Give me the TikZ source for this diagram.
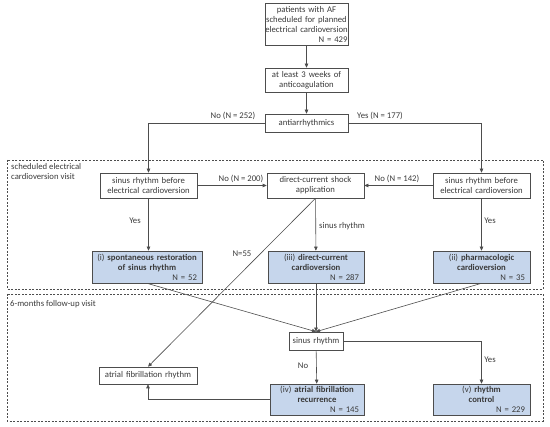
\documentclass[tikz,border=0pt]{standalone}
\usepackage{fontspec}
\setmainfont{Carlito}
\usetikzlibrary{arrows.meta}
\definecolor{linegray}{HTML}{4D4D4D}
\definecolor{textgray}{HTML}{3A3A3A}
\definecolor{boxblue}{HTML}{C6D6EC}
\newcommand{\Nright}{\hspace*{0pt plus 1filll}}
\hyphenpenalty=10000
\exhyphenpenalty=10000

\begin{document}
\begin{tikzpicture}[x=1pt, y=-1pt,
  font=\fontsize{8.7}{10}\selectfont, text=textgray,
  flowbox/.style={draw=linegray, fill=white, align=center, inner xsep=2pt, inner ysep=1pt, line width=0.6pt},
  resultbox/.style={flowbox, fill=boxblue},
  flowarrow/.style={draw=linegray, line width=0.6pt, -{Triangle[length=4pt,width=3.5pt]}},
  frame/.style={draw=linegray, line width=0.5pt, dash pattern=on 2pt off 1.5pt},
  lbl/.style={inner sep=1pt}]
  \useasboundingbox (0,0) rectangle (550,427);

  % visit frames
  \draw[frame] (7,160) rectangle (543,289);
  \draw[frame] (7,294) rectangle (543,421);
  \node[lbl, anchor=north west, align=left] (visitA) at (10,162) {scheduled electrical\\cardioversion visit};
  \node[lbl, anchor=north west] (visitB) at (9,299) {6-months follow-up visit};

  % boxes
  \node[flowbox, inner xsep=0.5pt, text width=82pt, minimum height=42pt] (patients) at (306.5,24) {patients with AF\\scheduled for planned\\\makebox[\linewidth]{electrical cardioversion}\\\Nright N = 429};
  \node[flowbox, text width=79pt, minimum height=24pt] (anticoag) at (306.5,80) {at least 3 weeks of\\anticoagulation};
  \node[flowbox, text width=79pt, minimum height=18pt] (antiarr) at (306.5,123) {antiarrhythmics};
  \node[flowbox, text width=93pt, minimum height=25pt] (sinusL) at (148.5,185.5) {sinus rhythm before\\electrical cardioversion};
  \node[flowbox, text width=93pt, minimum height=25pt] (shock) at (315.5,185.5) {direct-current shock\\application};
  \node[flowbox, text width=93pt, minimum height=25pt] (sinusR) at (481.5,185.5) {sinus rhythm before\\electrical cardioversion};
  \node[resultbox, text width=106pt, minimum height=32pt] (spont) at (147,267) {(i) \textbf{spontaneous restoration}\\\textbf{of sinus rhythm}\\\Nright N = 52\hspace*{3pt}};
  \node[resultbox, text width=92pt, minimum height=32pt] (dcconv) at (316,267) {(iii) \textbf{direct-current}\\\textbf{cardioversion}\\\Nright N = 287\hspace*{3pt}};
  \node[resultbox, text width=93pt, minimum height=32pt] (pharm) at (481.5,267) {(ii) \textbf{pharmacologic}\\\textbf{cardioversion}\\\Nright N = 35\hspace*{3pt}};
  \node[flowbox, text width=50pt, minimum height=18pt] (sinus) at (316,341) {sinus rhythm};
  \node[flowbox, text width=94pt, minimum height=17pt] (afrhythm) at (148,375.5) {atrial fibrillation rhythm};
  \node[resultbox, text width=90pt, minimum height=31pt] (afrec) at (317,399.5) {(iv) \textbf{atrial fibrillation}\\\textbf{recurrence}\\\Nright N = 145\hspace*{3pt}};
  \node[resultbox, text width=93pt, minimum height=31pt] (control) at (481.5,399.5) {(v) \textbf{rhythm}\\\textbf{control}\\\Nright N = 229\hspace*{3pt}};

  % connectors
  \draw[flowarrow] (patients) -- (anticoag);
  \draw[flowarrow] (anticoag) -- (antiarr);
  \draw[flowarrow] (antiarr.west) -| (sinusL.north);
  \draw[flowarrow] (antiarr.east) -| (sinusR.north);
  \draw[flowarrow] (sinusL) -- (shock);
  \draw[flowarrow] (sinusR) -- (shock);
  \draw[flowarrow] (sinusL.south) -- (sinusL.south |- spont.north);
  \draw[flowarrow] (sinusR) -- (pharm);
  \draw[flowarrow] (shock) -- (dcconv);
  \draw[flowarrow] (shock.south) -- (afrhythm.north);
  \draw[flowarrow] (spont.south) -- (sinus.north);
  \draw[flowarrow] (dcconv.south) -- (sinus.north);
  \draw[flowarrow] (pharm.south) -- (sinus.north);
  \draw[flowarrow] (sinus) -- (afrec);
  \draw[flowarrow] (sinus.east) -| (control.north);
  \draw[flowarrow] (afrec.west) -| (afrhythm.south);

  % labels
  \node[lbl] (noA) at (233,116) {No (N = 252)};
  \node[lbl] (yesA) at (380,116) {Yes (N = 177)};
  \node[lbl] (noB) at (241,179) {No (N = 200)};
  \node[lbl] (noC) at (397,179) {No (N = 142)};
  \node[lbl] (yesB) at (135,221) {Yes};
  \node[lbl] (yesC) at (490,221) {Yes};
  \node[lbl] (viaSR) at (342,226) {sinus rhythm};
  \node[lbl] (n55) at (242,254) {N=55};
  \node[lbl] (noD) at (303,366) {No};
  \node[lbl] (yesD) at (490,360) {Yes};
\end{tikzpicture}
\end{document}
